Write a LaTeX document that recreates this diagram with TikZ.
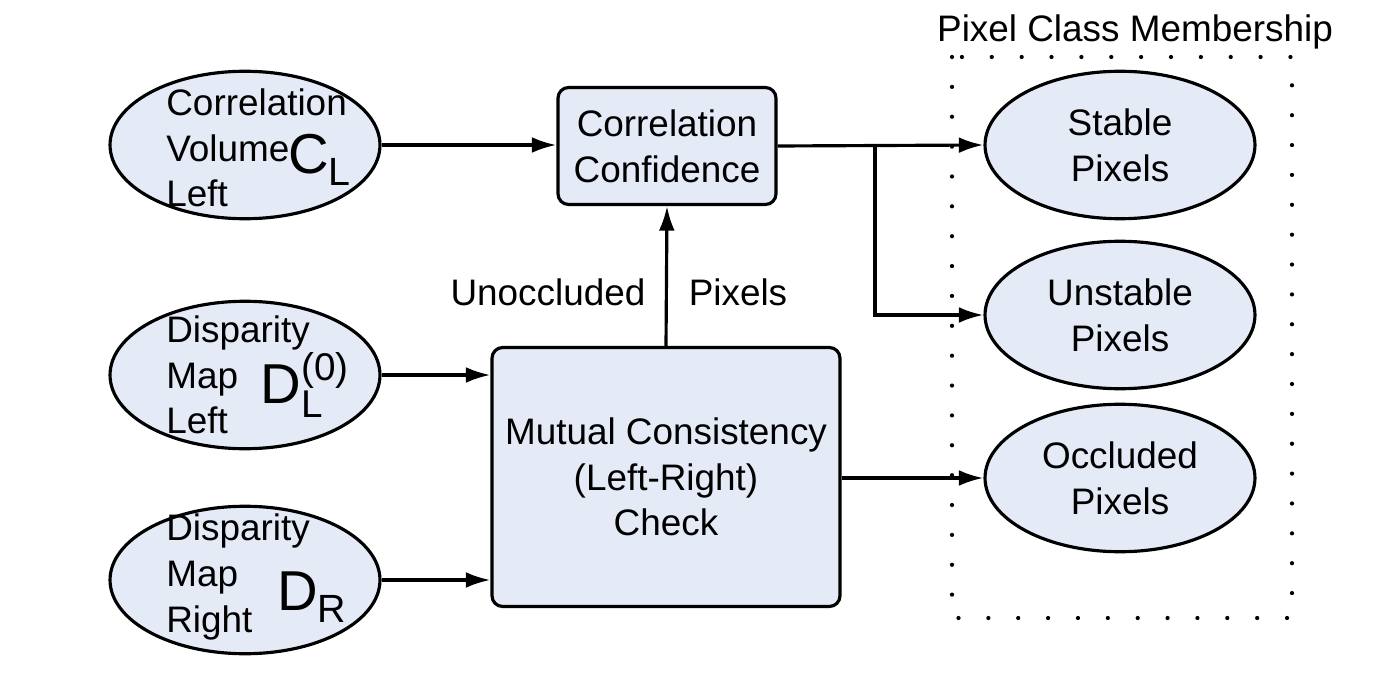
\documentclass[tikz,border=0pt]{standalone}
\usepackage{fontspec}
\setmainfont{Liberation Sans}
\usetikzlibrary{arrows.meta,shapes.geometric}
\definecolor{fillb}{HTML}{E4EAF6}
\newcommand{\smtxt}[1]{\hbox{\fontsize{22}{22}\selectfont #1}}
\tikzset{
 ell/.style={draw,line width=1.8pt,fill=fillb,ellipse,minimum width=5.4cm,minimum height=2.95cm,inner sep=0pt},
 box/.style={draw,line width=1.8pt,fill=fillb,rounded corners=6pt,inner sep=0pt,align=center,font=\fontsize{21}{26}\selectfont},
 lbl/.style={font=\fontsize{21}{26}\selectfont,align=left,anchor=west,inner sep=0pt},
 big/.style={font=\fontsize{32}{34}\selectfont,inner sep=0pt},
 arr/.style={line width=1.8pt,-{Latex[length=14pt,width=9pt]}},
 txt/.style={font=\fontsize{21}{26}\selectfont,inner sep=0pt}
}
\begin{document}
\begin{tikzpicture}[x=0.02cm,y=-0.02cm]
\useasboundingbox (0,0) rectangle (1384,676);
\node[ell] (cl) at (245,145) {};
\node[lbl] (clt) at (166,148) {Correlation\\Volume\\Left};
\node[big] (cls) at (320,160) {C\textsubscript{L}};
\node[ell] (dl) at (245,375) {};
\node[lbl] (dlt) at (166,375) {Disparity\\Map\\Left};
\node[big] (dls) at (305,385) {D$^{\smtxt{(0)}}_{\smtxt{L}}$};
\node[ell] (dr) at (245,580) {};
\node[lbl] (drt) at (166,577) {Disparity\\Map\\Right};
\node[big] (drs) at (312,597) {D\textsubscript{R}};
\node[box,minimum width=4.36cm,minimum height=2.34cm] (cc) at (667,146) {Correlation\\Confidence};
\node[box,minimum width=6.96cm,minimum height=5.18cm] (mc) at (666,477) {Mutual Consistency\\(Left-Right)\\Check};
\draw[line width=2.4pt,line cap=round,dash pattern=on 0pt off 17pt] (952,57) rectangle (1292,618);
\node[txt] (title) at (1135,32) {Pixel Class Membership};
\node[ell,align=center,font=\fontsize{21}{26}\selectfont] (st) at (1120,145) {Stable\\Pixels};
\node[ell,align=center,font=\fontsize{21}{26}\selectfont] (un) at (1120,315) {Unstable\\Pixels};
\node[ell,align=center,font=\fontsize{21}{26}\selectfont] (oc) at (1120,478) {Occluded\\Pixels};
\coordinate (br) at (875,145);
\draw[arr] (cl.east) -- (cc.west|-cl.east);
\draw[arr] (cc.east) -- (st.west);
\draw[arr] (br) |- (un.west);
\draw[arr] (dl.east) -- (mc.west|-dl.east);
\draw[arr] (dr.east) -- (mc.west|-dr.east);
\draw[arr] (mc.east|-oc.west) -- (oc.west);
\draw[arr] (mc.north) -- (cc.south);
\node[txt] (uo) at (548,292) {Unoccluded};
\node[txt] (px) at (738,292) {Pixels};
\end{tikzpicture}
\end{document}
